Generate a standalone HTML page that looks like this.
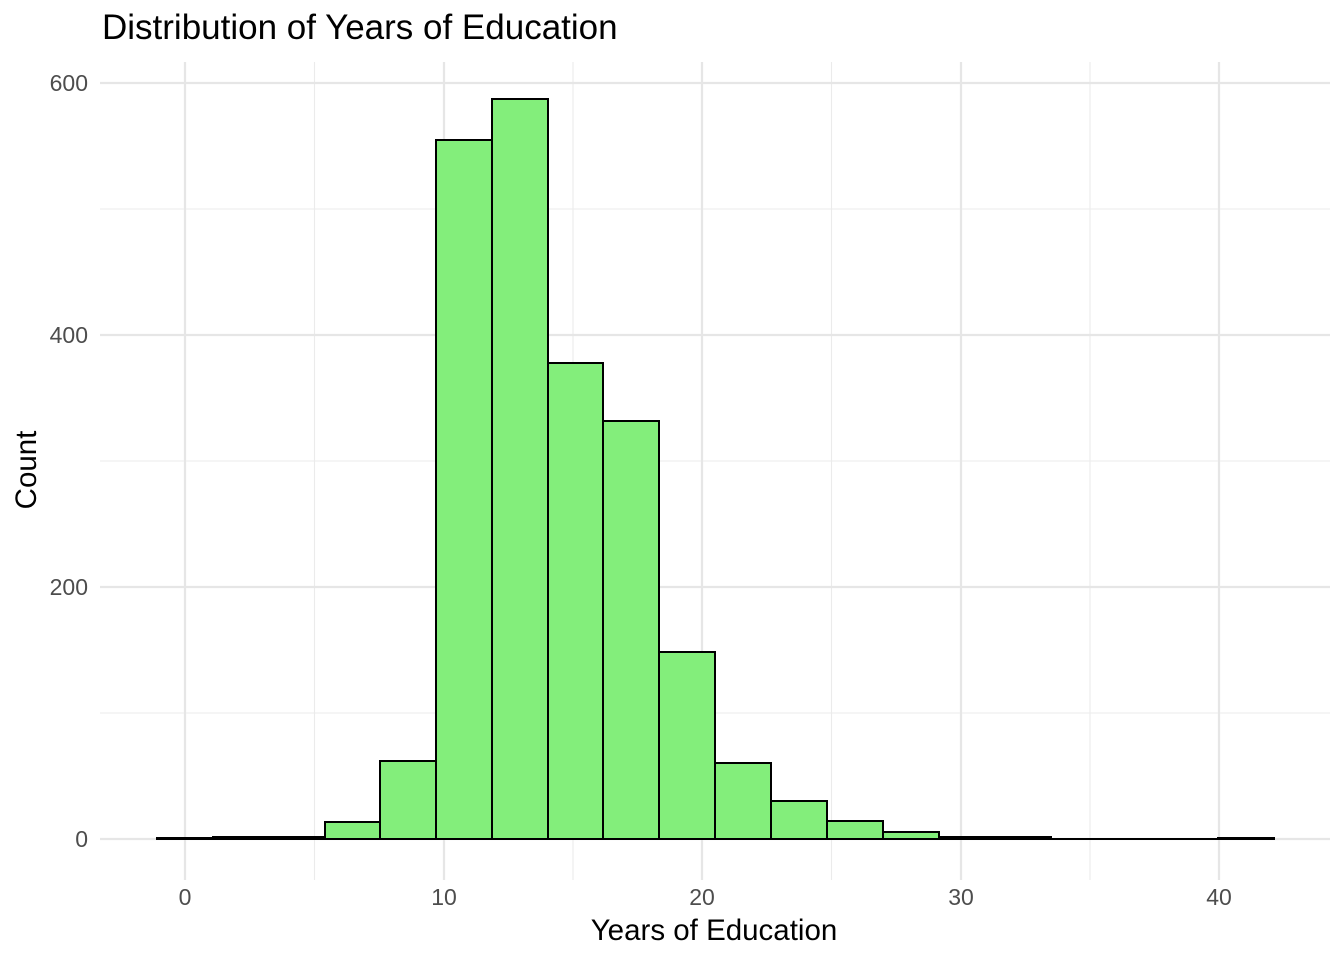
<!DOCTYPE html>
<html><head><meta charset="utf-8"><style>
html,body{margin:0;padding:0;background:#fff;}
svg{display:block;font-family:"Liberation Sans",sans-serif;}
</style></head><body>
<svg width="1344" height="960" viewBox="0 0 1344 960">
<g stroke="#ebebeb" stroke-width="1.1">
<line x1="100" x2="1330" y1="713" y2="713"/><line x1="100" x2="1330" y1="461" y2="461"/><line x1="100" x2="1330" y1="209" y2="209"/>
<line x1="314.5" x2="314.5" y1="62" y2="880"/><line x1="573" x2="573" y1="62" y2="880"/><line x1="831.5" x2="831.5" y1="62" y2="880"/><line x1="1090" x2="1090" y1="62" y2="880"/>
</g>
<g stroke="#e6e6e6" stroke-width="2.2">
<line x1="100" x2="1330" y1="839" y2="839"/><line x1="100" x2="1330" y1="587" y2="587"/><line x1="100" x2="1330" y1="335" y2="335"/><line x1="100" x2="1330" y1="83" y2="83"/>
<line x1="185" x2="185" y1="62" y2="880"/><line x1="444" x2="444" y1="62" y2="880"/><line x1="702" x2="702" y1="62" y2="880"/><line x1="961" x2="961" y1="62" y2="880"/><line x1="1219" x2="1219" y1="62" y2="880"/>
</g>
<g fill="#83ee7b" stroke="#000" stroke-width="2">
<rect x="157" y="838" width="56" height="1"/>
<rect x="213" y="837" width="56" height="2"/>
<rect x="269" y="837" width="56" height="2"/>
<rect x="325" y="822" width="55" height="17"/>
<rect x="380" y="761" width="56" height="78"/>
<rect x="436" y="140" width="56" height="699"/>
<rect x="492" y="99" width="56" height="740"/>
<rect x="548" y="363" width="55" height="476"/>
<rect x="603" y="421" width="56" height="418"/>
<rect x="659" y="652" width="56" height="187"/>
<rect x="715" y="763" width="56" height="76"/>
<rect x="771" y="801" width="56" height="38"/>
<rect x="827" y="821" width="56" height="18"/>
<rect x="883" y="832" width="56" height="7"/>
<rect x="939" y="837" width="56" height="2"/>
<rect x="995" y="837" width="56" height="2"/>
<rect x="1218" y="838" width="56" height="1"/>
</g>
<line x1="1051" x2="1218" y1="839" y2="839" stroke="#000" stroke-width="2"/>
<g font-size="23" fill="#4d4d4d" text-anchor="end">
<text x="88" y="847">0</text><text x="88" y="595">200</text><text x="88" y="343">400</text><text x="88" y="91">600</text>
</g>
<g font-size="23" fill="#4d4d4d" text-anchor="middle">
<text x="185" y="905">0</text><text x="444" y="905">10</text><text x="702" y="905">20</text><text x="961" y="905">30</text><text x="1219" y="905">40</text>
</g>
<text x="714" y="940" font-size="29.5" text-anchor="middle" fill="#000">Years of Education</text>
<text transform="translate(36,470) rotate(-90)" font-size="29.5" text-anchor="middle" fill="#000">Count</text>
<text x="102" y="39" font-size="35" fill="#000">Distribution of Years of Education</text>
</svg>
</body></html>
